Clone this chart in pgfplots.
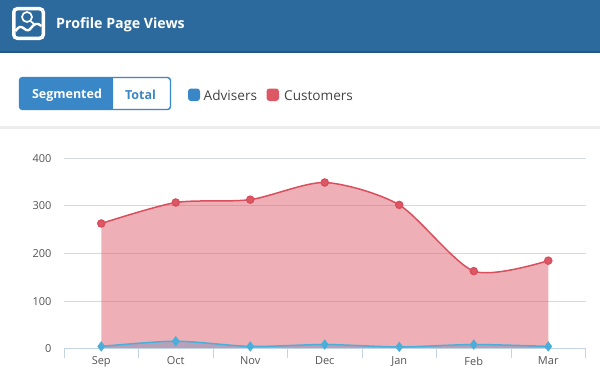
\documentclass[border=0pt]{standalone}
\usepackage{pgfplots}
\pgfplotsset{compat=1.18}
\usepackage{fontspec}
\setmainfont{Open Sans}
\definecolor{hdr}{HTML}{2C6A9E}
\definecolor{hdrb}{HTML}{22578A}
\definecolor{btn}{HTML}{3A87C8}
\definecolor{redl}{HTML}{D94F5E}
\definecolor{redf}{HTML}{DC5864}
\definecolor{bluel}{HTML}{4AAEDB}
\definecolor{bluef}{HTML}{3A7FC0}
\definecolor{gridc}{HTML}{D6DAE0}
\definecolor{axisc}{HTML}{C4D4E6}
\definecolor{txt}{HTML}{555555}
\begin{document}
\begin{tikzpicture}[x=1pt,y=1pt]
\path[use as bounding box] (0,0) rectangle (600,384);
\fill[white] (0,0) rectangle (600,384);
% header
\fill[hdr] (0,332) rectangle (600,384);
\fill[hdrb] (0,331.5) rectangle (600,332.8);
% icon
\fill[white,rounded corners=5pt] (12,344) rectangle (45,377);
\fill[hdr,rounded corners=2.5pt] (15.5,347.5) rectangle (41.5,373.5);
\draw[white,line width=1.7pt] (27,367) circle (5);
\draw[white,line width=1.7pt] (30.5,363) -- (34,360);
\draw[white,line width=2.4pt,line join=round] (15.5,353) .. controls (19,358) and (21,358) .. (24,355.5) .. controls (27,353) and (29,353) .. (31,356) .. controls (34,360) and (37,362) .. (41.5,358);
\node[anchor=west,inner sep=0pt,white,font=\fontsize{14.2}{14.2}\selectfont\bfseries] at (56,359) {Profile Page Views};
% buttons
\draw[btn,line width=1.4pt,fill=white,rounded corners=3pt] (19.5,274.5) rectangle (170.5,306.5);
\fill[btn,rounded corners=3pt] (19.5,274.5) rectangle (113,306.5);
\fill[btn] (100,274.5) rectangle (113,306.5);
\node[white,inner sep=0pt,font=\fontsize{12.5}{12.5}\selectfont\bfseries] at (67,288.7) {Segmented};
\node[btn,inner sep=0pt,font=\fontsize{12.5}{12.5}\selectfont\bfseries] at (140.5,288.7) {Total};
% legend
\fill[btn,rounded corners=3pt] (188,283) rectangle (200,295.5);
\node[anchor=west,inner sep=0pt,text=txt!80!black,font=\fontsize{13.6}{13.6}\selectfont] at (203.5,288.4) {Advisers};
\fill[redf,rounded corners=3pt] (266.5,283) rectangle (279,295.5);
\node[anchor=west,inner sep=0pt,text=txt!80!black,font=\fontsize{13.6}{13.6}\selectfont] at (284,288.4) {Customers};
% separator
\fill[black!7] (0,255.5) rectangle (600,258);
\begin{axis}[
  at={(64pt,35.2pt)},anchor=south west,
  scale only axis,width=521.5pt,height=190.6pt,
  xmin=-0.5,xmax=6.5,ymin=0,ymax=400,
  axis y line=left,axis x line=bottom,
  axis line style={-,draw=none},
  ytick={0,100,200,300,400},
  xtick={0,...,6},
  xticklabels={Sep,Oct,Nov,Dec,Jan,Feb,Mar},
  minor xtick={-0.5,0.5,1.5,2.5,3.5,4.5,5.5,6.5},
  ymajorgrids,
  major grid style={gridc,line width=0.8pt},
  major tick length=0pt,
  minor tick length=9pt,
  tick align=outside,
  minor tick style={axisc,line width=0.9pt},
  major tick style={draw=none},
  tick label style={text=txt,font=\fontsize{11}{11}\selectfont},
  /pgf/number format/assume math mode=true,
  xticklabel style={yshift=-4.5pt,font=\fontsize{11}{11}\selectfont},
  yticklabel style={xshift=-9pt},
  clip=false,
]
\addplot[draw=none,fill=redf,fill opacity=0.47,smooth,tension=0.45] coordinates {(0,263)(1,307)(2,313)(3,349)(4,302)(5,163)(6,185)} \closedcycle;
\addplot[draw=none,fill=bluef,fill opacity=0.3,smooth,tension=0.45] coordinates {(0,5)(1,16)(2,5)(3,9)(4,4)(5,9)(6,5)} \closedcycle;
\addplot[axisc,line width=0.9pt,forget plot] coordinates {(-0.5,0)(6.5,0)};
\addplot[redl,line width=1.5pt,smooth,tension=0.45,mark=*,mark size=3.5pt,mark options={fill=redf,draw=none}] coordinates {(0,263)(1,307)(2,313)(3,349)(4,302)(5,163)(6,185)};
\addplot[bluel,line width=1.5pt,smooth,tension=0.45,mark=diamond*,mark size=4pt,mark options={fill=bluel,draw=none}] coordinates {(0,5)(1,16)(2,5)(3,9)(4,4)(5,9)(6,5)};
\end{axis}
\end{tikzpicture}
\end{document}
